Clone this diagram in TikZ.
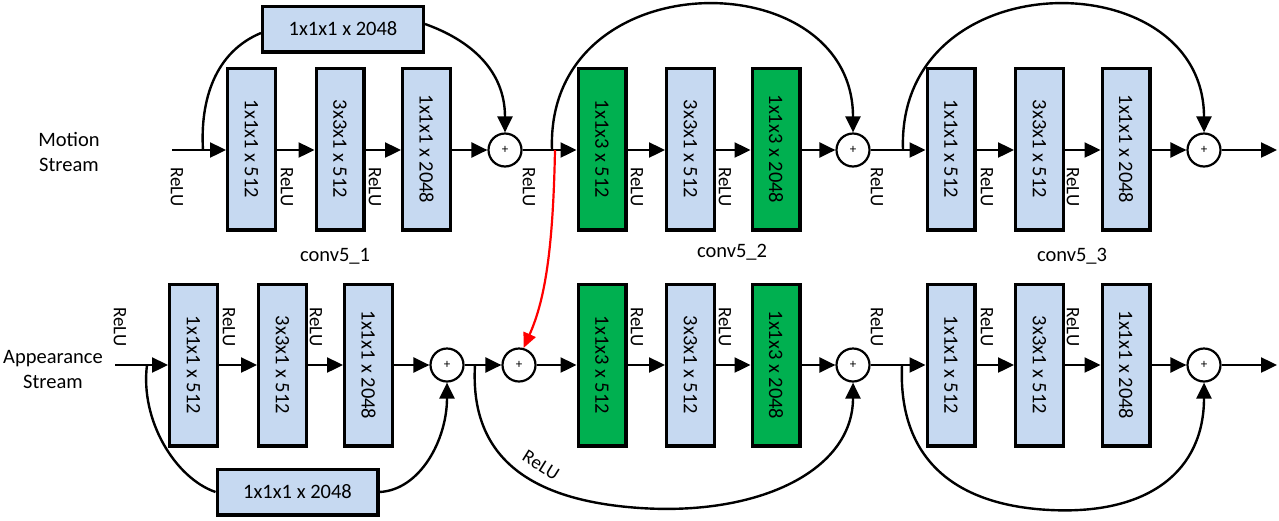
\documentclass[tikz,border=0pt]{standalone}
\usepackage{fontspec}
\setmainfont{Carlito}
\usetikzlibrary{arrows.meta}
\definecolor{boxblue}{RGB}{198,217,241}
\definecolor{boxgreen}{RGB}{0,176,80}
\definecolor{redarrow}{RGB}{255,0,0}
\begin{document}
\begin{tikzpicture}[x=1pt,y=-1pt,
  convbox/.style={draw=black, line width=3.3pt, fill=boxblue, minimum width=47.7pt, minimum height=161.7pt, inner sep=0pt, font=\fontsize{20.5}{24}\selectfont},
  greenbox/.style={convbox, fill=boxgreen},
  bypassbox/.style={draw=black, line width=3.3pt, fill=boxblue, minimum width=160.7pt, minimum height=45.7pt, inner sep=0pt, font=\fontsize{20.5}{24}\selectfont},
  plusnode/.style={draw=black, circle, line width=2.2pt, minimum size=33pt, inner sep=0pt, font=\fontsize{13}{14}\selectfont},
  relulabel/.style={inner sep=0pt, font=\fontsize{19}{22}\selectfont},
  streamlabel/.style={inner sep=0pt, align=center, font=\fontsize{20.5}{25}\selectfont},
  convlabel/.style={inner sep=0pt, font=\fontsize{20.5}{24}\selectfont},
  conn/.style={line width=2.4pt, -{Triangle[length=16pt,width=15pt]}},
  plainline/.style={line width=2.4pt},
  redconn/.style={line width=2.2pt, draw=redarrow, -{Triangle[length=15pt,width=13pt]}, color=redarrow}
]
\useasboundingbox (0,0) rectangle (1279,520);

% ---------------- Motion stream (top) ----------------
\node[streamlabel] (motion) at (69,152) {Motion\\Stream};
\coordinate (tin) at (172,150);
\coordinate (tout) at (1277,150);

\node[convbox] (A1) at (251.5,149) {\rotatebox{-90}{1x1x1 x 512}};
\node[convbox] (A2) at (340,149) {\rotatebox{-90}{3x3x1 x 512}};
\node[convbox] (A3) at (426.5,149) {\rotatebox{-90}{1x1x1 x 2048}};
\node[plusnode] (tp1) at (505,150) {+};
\node[bypassbox] (bt1) at (343,29) {1x1x1 x 2048};

\node[greenbox] (B1) at (602,149) {\rotatebox{-90}{1x1x3 x 512}};
\node[convbox] (B2) at (690.5,149) {\rotatebox{-90}{3x3x1 x 512}};
\node[greenbox] (B3) at (776,149) {\rotatebox{-90}{1x1x3 x 2048}};
\node[plusnode] (tp2) at (853,150) {+};

\node[convbox] (C1) at (951,149) {\rotatebox{-90}{1x1x1 x 512}};
\node[convbox] (C2) at (1039.5,149) {\rotatebox{-90}{3x3x1 x 512}};
\node[convbox] (C3) at (1126,149) {\rotatebox{-90}{1x1x1 x 2048}};
\node[plusnode] (tp3) at (1204,150) {+};

\coordinate (ts1) at (203,150);
\coordinate (ts2) at (552,150);
\coordinate (ts3) at (903,150);
\coordinate (rs) at (555,150);

\draw[conn] (tin) -- (A1.west |- tin);
\draw[conn] (A1.east |- tin) -- (A2.west |- tin);
\draw[conn] (A2.east |- tin) -- (A3.west |- tin);
\draw[conn] (A3.east |- tin) -- (tp1.west);
\draw[conn] (tp1.east) -- (B1.west |- tin);
\draw[conn] (B1.east |- tin) -- (B2.west |- tin);
\draw[conn] (B2.east |- tin) -- (B3.west |- tin);
\draw[conn] (B3.east |- tin) -- (tp2.west);
\draw[conn] (tp2.east) -- (C1.west |- tin);
\draw[conn] (C1.east |- tin) -- (C2.west |- tin);
\draw[conn] (C2.east |- tin) -- (C3.west |- tin);
\draw[conn] (C3.east |- tin) -- (tp3.west);
\draw[conn] (tp3.east) -- (tout);

\draw[plainline] ([yshift=-4pt]bt1.west) .. controls (215,52) and (200,100) .. (ts1);
\draw[conn] ([yshift=5pt]bt1.east) .. controls (470,40) and (505,70) .. (tp1.north);
\draw[conn] (ts2) .. controls (545,-40) and (853,-40) .. (tp2.north);
\draw[conn] (ts3) .. controls (896,-40) and (1204,-40) .. (tp3.north);

\node[relulabel] (tr1) at (177,187) {\rotatebox{-90}{ReLU}};
\node[relulabel] (tr2) at (287,187) {\rotatebox{-90}{ReLU}};
\node[relulabel] (tr3) at (375,187) {\rotatebox{-90}{ReLU}};
\node[relulabel] (tr4) at (529,187) {\rotatebox{-90}{ReLU}};
\node[relulabel] (tr5) at (637,187) {\rotatebox{-90}{ReLU}};
\node[relulabel] (tr6) at (725,187) {\rotatebox{-90}{ReLU}};
\node[relulabel] (tr7) at (877,187) {\rotatebox{-90}{ReLU}};
\node[relulabel] (tr8) at (987,187) {\rotatebox{-90}{ReLU}};
\node[relulabel] (tr9) at (1073,187) {\rotatebox{-90}{ReLU}};

\node[convlabel] (cv1) at (335,256) {conv5\_1};
\node[convlabel] (cv2) at (732,252) {conv5\_2};
\node[convlabel] (cv3) at (1072,256) {conv5\_3};

% ---------------- Appearance stream (bottom) ----------------
\node[streamlabel] (appear) at (53,369) {Appearance\\Stream};
\coordinate (bin) at (115,365);
\coordinate (bout) at (1277,365);

\node[convbox] (D1) at (193.5,365) {\rotatebox{-90}{1x1x1 x 512}};
\node[convbox] (D2) at (282.5,365) {\rotatebox{-90}{3x3x1 x 512}};
\node[convbox] (D3) at (368.5,365) {\rotatebox{-90}{1x1x1 x 2048}};
\node[plusnode] (bp1) at (447,365) {+};
\node[plusnode] (bp2) at (519,365) {+};
\node[bypassbox] (bb1) at (297.5,492) {1x1x1 x 2048};

\node[greenbox] (E1) at (602,365) {\rotatebox{-90}{1x1x3 x 512}};
\node[convbox] (E2) at (690.5,365) {\rotatebox{-90}{3x3x1 x 512}};
\node[greenbox] (E3) at (776,365) {\rotatebox{-90}{1x1x3 x 2048}};
\node[plusnode] (bp3) at (853,365) {+};

\node[convbox] (F1) at (951,365) {\rotatebox{-90}{1x1x1 x 512}};
\node[convbox] (F2) at (1039.5,365) {\rotatebox{-90}{3x3x1 x 512}};
\node[convbox] (F3) at (1126,365) {\rotatebox{-90}{1x1x1 x 2048}};
\node[plusnode] (bp4) at (1204,365) {+};

\coordinate (bs1) at (147,365);
\coordinate (bs2) at (475,365);
\coordinate (bs3) at (902,365);
\coordinate (bm2) at (640,508);
\coordinate (bm3) at (1050,510);

\draw[conn] (bin) -- (D1.west |- bin);
\draw[conn] (D1.east |- bin) -- (D2.west |- bin);
\draw[conn] (D2.east |- bin) -- (D3.west |- bin);
\draw[conn] (D3.east |- bin) -- (bp1.west);
\draw[conn] (bp1.east) -- (bp2.west);
\draw[conn] (bp2.east) -- (E1.west |- bin);
\draw[conn] (E1.east |- bin) -- (E2.west |- bin);
\draw[conn] (E2.east |- bin) -- (E3.west |- bin);
\draw[conn] (E3.east |- bin) -- (bp3.west);
\draw[conn] (bp3.east) -- (F1.west |- bin);
\draw[conn] (F1.east |- bin) -- (F2.west |- bin);
\draw[conn] (F2.east |- bin) -- (F3.west |- bin);
\draw[conn] (F3.east |- bin) -- (bp4.west);
\draw[conn] (bp4.east) -- (bout);

\draw[plainline] (bs1) .. controls (140,420) and (175,478) .. (bb1.west);
\draw[conn] (bb1.east) .. controls (420,490) and (447,440) .. (bp1.south);
\draw[conn] (bs2) .. controls (470,450) and (520,500) .. (bm2) .. controls (760,516) and (853,470) .. (bp3.south);
\draw[conn] (bs3) .. controls (898,455) and (950,505) .. (bm3) .. controls (1150,515) and (1204,470) .. (bp4.south);

\draw[redconn] (rs) .. controls (553,250) and (545,300) .. (bp2.75);

\node[relulabel] (br1) at (120,327) {\rotatebox{-90}{ReLU}};
\node[relulabel] (br2) at (229,327) {\rotatebox{-90}{ReLU}};
\node[relulabel] (br3) at (316,327) {\rotatebox{-90}{ReLU}};
\node[relulabel] (br4) at (637,327) {\rotatebox{-90}{ReLU}};
\node[relulabel] (br5) at (725,327) {\rotatebox{-90}{ReLU}};
\node[relulabel] (br6) at (877,327) {\rotatebox{-90}{ReLU}};
\node[relulabel] (br7) at (987,327) {\rotatebox{-90}{ReLU}};
\node[relulabel] (br8) at (1073,327) {\rotatebox{-90}{ReLU}};
\node[relulabel, rotate=-32] (br9) at (541,465) {ReLU};
\end{tikzpicture}
\end{document}
